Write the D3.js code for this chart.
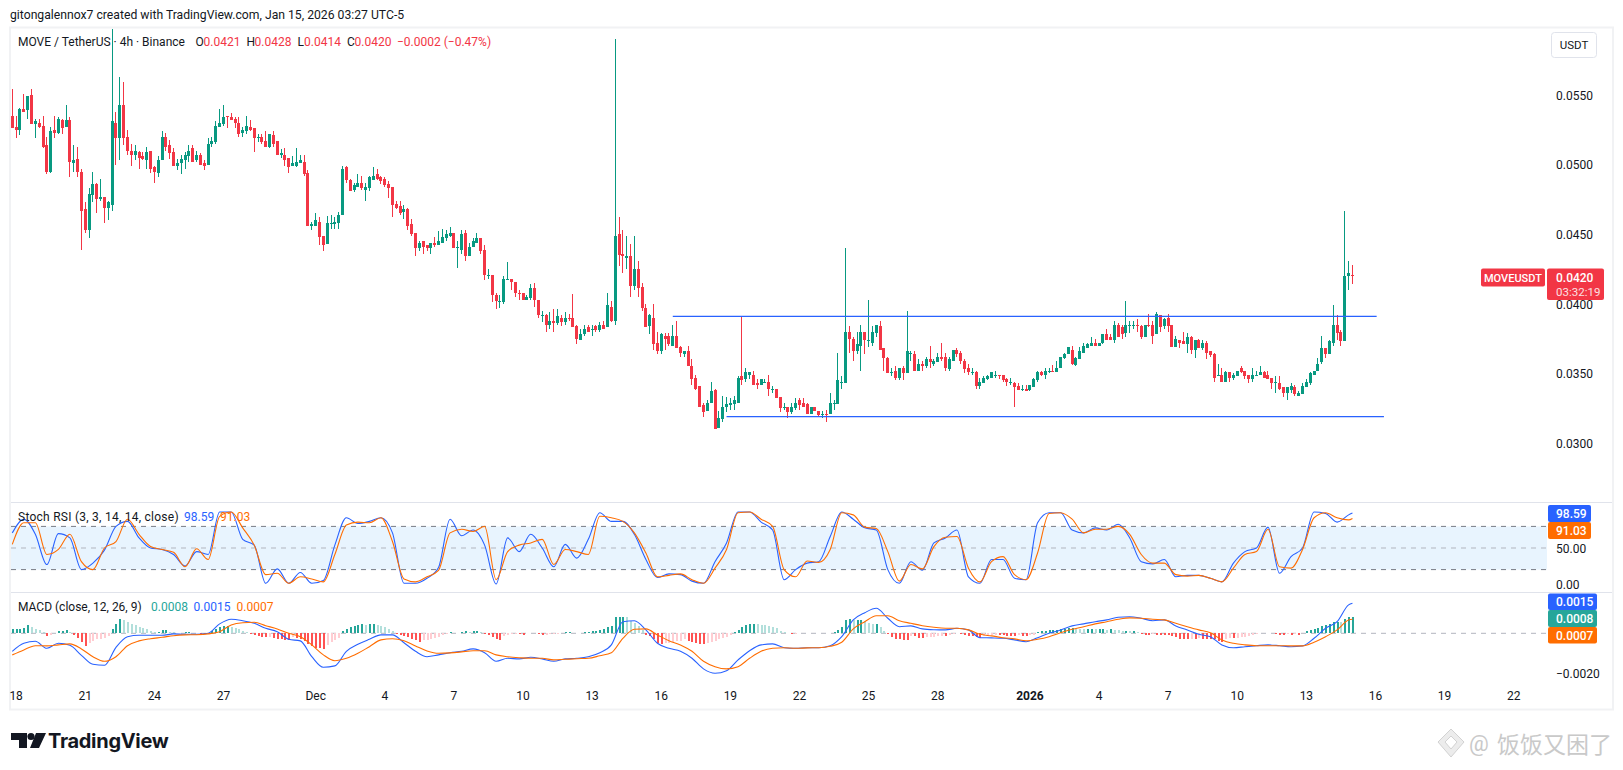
<!DOCTYPE html>
<html><head><meta charset="utf-8">
<script src="https://cdn.jsdelivr.net/npm/d3@7"></script>
<style>
html,body{margin:0;padding:0;background:#fff;overflow:hidden}
svg text{font-family:Roboto,"Noto Sans",sans-serif;fill:#131722}
.axis .domain,.axis line{display:none}
</style></head><body>
<svg id="c" width="1623" height="770"></svg>
<script>
// Prices are in ticks of 0.0001 USDT.
const TICK = 0.0001;
const opens = [535,527,525,540,539,550,529,530,528,514,
495,525,523,532,527,532,501,504,495,468,
453,478,486,475,477,469,471,530,519,543,
520,510,507,509,506,503,510,498,494,503,
520,514,509,499,501,503,506,512,503,507,
501,500,515,516,527,529,535,534,533,530,
523,524,527,526,519,520,517,513,521,517,
507,507,505,499,499,501,502,494,456,456,
459,449,443,458,457,458,464,498,489,482,
484,487,482,483,489,493,491,490,486,484,
472,470,466,468,457,451,440,445,442,440,
444,442,444,447,449,451,440,439,451,434,
441,444,447,439,420,421,406,402,401,417,
418,416,408,408,403,404,411,403,391,392,
385,388,386,390,387,390,390,384,374,378,
383,381,384,381,385,383,398,388,450,436,
433,434,413,425,412,397,384,390,372,366,
377,377,370,377,369,364,366,355,347,341,
327,323,329,338,311,317,326,327,328,329,
348,346,349,349,343,342,344,344,338,339,
333,325,326,322,325,331,329,328,321,326,
323,320,321,321,329,328,344,343,380,375,
366,370,380,374,372,379,384,368,361,350,
352,347,354,350,365,364,352,357,355,360,
357,358,362,362,353,359,367,365,359,354,
350,351,341,343,346,347,349,349,349,346,
343,343,341,338,339,338,340,345,351,349,
352,352,351,354,361,364,367,356,360,365,
368,370,372,370,372,378,376,374,385,383,
379,384,384,385,384,376,385,385,378,392,
384,390,385,369,374,373,371,376,367,374,
368,372,366,364,348,349,344,351,347,348,
354,352,349,346,349,349,351,349,347,343,
343,340,336,338,340,334,335,340,343,349,
352,358,368,364,372,385,380,373,420,421];
const highs = [554,535,541,551,549,554,533,533,535,520,
527,535,534,533,543,534,514,513,497,473,
483,495,487,490,477,474,605,538,563,559,
525,515,514,510,509,513,510,499,506,524,
523,518,512,504,507,509,514,514,510,508,
503,519,520,531,540,543,535,537,534,534,
527,535,532,526,522,522,524,522,524,517,
511,512,505,506,512,507,507,496,459,465,
462,449,463,464,462,466,499,499,490,487,
493,492,487,492,498,497,492,491,488,484,
474,474,471,469,461,451,445,445,442,444,
448,452,454,453,455,451,445,453,453,444,
447,451,447,442,425,421,408,406,420,430,
418,416,410,408,406,414,415,403,395,393,
394,396,396,392,394,393,407,385,382,385,
385,385,385,387,388,408,402,590,462,453,
449,443,449,431,415,400,393,400,380,379,
379,379,385,388,370,366,370,360,349,341,
329,331,344,339,323,334,333,332,334,348,
391,354,351,352,346,346,346,349,341,339,
333,329,326,329,332,332,332,329,326,326,
323,323,324,336,331,365,348,440,384,376,
380,385,380,403,384,385,388,368,362,354,
355,354,355,395,366,366,360,359,362,370,
360,365,372,365,362,367,368,366,360,357,
354,352,347,348,349,351,352,349,349,347,
347,344,343,342,342,342,347,352,352,354,
354,356,359,362,365,369,370,362,369,372,
372,376,375,372,378,382,378,388,386,385,
402,388,388,389,385,385,393,388,394,392,
390,393,385,377,374,380,379,377,374,375,
374,373,366,365,357,354,352,351,350,352,
355,352,349,354,352,355,352,352,347,348,
348,340,340,343,342,337,343,346,351,352,
361,377,368,374,399,392,381,467,431,428];
const lows = [526,519,521,538,533,529,519,526,512,493,
494,519,522,522,527,491,495,491,439,451,
447,473,465,474,458,460,467,500,503,514,
507,499,503,497,503,497,494,487,491,503,
510,504,499,496,493,497,502,502,502,500,
496,500,513,515,527,528,526,532,526,520,
520,522,524,509,516,515,513,512,513,507,
505,499,494,499,498,501,492,456,453,456,
442,438,443,454,454,454,464,487,481,480,
484,482,474,481,489,489,486,484,476,462,
468,464,461,453,449,434,438,436,438,436,
441,442,444,445,448,440,426,436,431,434,
441,444,436,417,418,401,396,397,400,417,
410,405,403,403,403,403,398,390,387,380,
382,380,385,384,385,388,383,371,374,377,
380,377,380,380,382,383,387,385,427,422,
425,405,410,405,395,383,378,367,364,364,
367,370,370,368,362,362,355,342,338,326,
319,323,329,310,311,315,322,324,324,329,
342,344,346,342,339,342,343,334,336,332,
322,324,318,321,324,324,326,321,321,323,
319,318,315,321,324,328,339,343,365,359,
364,352,364,369,370,376,367,352,350,348,
345,345,345,350,359,352,352,352,354,354,
355,358,359,352,352,359,362,357,350,349,
349,339,339,343,345,347,347,346,344,341,
342,326,338,337,337,337,340,344,348,346,
350,351,351,354,360,364,356,355,360,365,
368,370,370,370,371,374,374,372,376,375,
376,379,382,380,375,376,383,371,378,380,
382,380,369,369,368,371,365,364,361,368,
367,360,362,344,348,344,344,344,345,348,
350,346,343,344,349,349,347,346,339,336,
338,333,331,336,334,334,335,340,342,349,
352,357,361,364,370,374,370,373,410,414];
const closes = [526,525,540,538,549,529,531,527,513,495,
524,523,533,526,532,502,503,495,467,453,
479,486,475,477,469,473,531,519,543,519,
510,507,510,505,504,509,497,495,503,520,
513,508,499,501,504,507,510,502,507,500,
499,515,517,528,530,534,534,532,530,522,
525,528,525,519,520,516,513,522,515,507,
508,503,498,501,502,503,493,456,457,460,
448,442,458,458,459,464,497,489,481,485,
487,483,484,491,492,490,488,485,483,471,
469,465,468,456,450,440,444,441,440,444,
442,445,448,450,451,440,441,450,434,441,
445,447,438,421,421,406,402,402,418,418,
416,408,407,403,405,411,403,392,392,385,
388,386,391,387,390,389,383,375,378,382,
380,382,381,385,382,399,388,449,435,434,
434,413,425,411,397,383,392,371,366,378,
375,371,377,368,365,366,355,346,339,326,
322,329,337,310,318,326,328,329,331,347,
345,351,351,342,342,346,344,339,339,332,
325,326,322,326,329,327,326,321,326,323,
320,321,320,329,329,345,344,380,375,366,
371,380,374,374,380,385,367,361,350,351,
347,354,350,366,365,352,357,355,360,358,
359,362,360,354,360,367,364,359,353,351,
351,341,344,347,348,351,349,348,345,344,
344,340,338,339,337,342,346,351,349,352,
352,351,354,362,364,369,357,361,366,370,
371,372,370,372,378,374,374,385,376,378,
385,385,385,384,376,385,384,377,393,383,
389,384,369,375,372,371,376,367,374,368,
372,365,363,347,349,344,351,347,349,352,
351,348,346,349,349,351,347,346,343,344,
339,336,340,341,335,336,341,344,350,352,
357,368,364,373,385,379,373,420,422,420];
// Horizontal line tools: [first bar, last bar, price in ticks]
const lineStarts = [172, 186];
const lineEnds = [355.3, 357.2];
const lineLevels = [391, 319];
// Stoch RSI and MACD are read at every third bar, plus the last one.
const stochK = [71,90,69,27,70,64,20,29,47,80,87,64,50,48,41,25,45,41,100,100,62,54,1,21,1,16,1,5,54,92,84,87,92,71,1,1,8,23,90,67,75,54,0,64,45,69,
50,24,55,36,62,99,87,87,69,34,9,14,13,4,1,31,57,100,100,86,75,6,20,29,31,66,100,90,78,75,20,1,31,19,57,64,75,10,1,34,34,8,6,85,99,99,75,
71,78,75,83,64,31,28,34,10,12,12,8,3,29,45,50,79,15,38,50,100,98,86,96,98.59];
const stochD = [55,85,85,41,48,69,31,20,50,59,90,69,52,48,44,24,49,34,94,100,78,54,13,15,1,10,7,3,41,82,86,85,92,59,7,3,10,19,71,76,73,80,6,45,54,57,
62,27,48,45,41,94,92,87,71,43,10,12,14,6,1,22,48,99,100,90,80,20,10,32,30,48,99,96,79,77,45,4,27,21,52,65,66,22,3,31,38,13,6,43,98,99,90,
71,76,76,80,69,41,29,29,13,11,12,8,3,22,41,45,76,24,22,48,92,99,92,89,91.03];
const macdLine = [-9,-5,-4,-7.5,-5,-6,-11,-15.5,-16,-7,-1.7,-1,-1,-1,-.3,-.5,-.5,0,4.7,7,6.3,5,2.5,.8,-3,-3.8,-11.7,-17,-16.3,-9,-5.5,-3,-.8,-.8,-4.7,-9,-11.7,-10.8,-9.7,-9,-7.8,-9.7,-14,-12.5,-12.8,-12,
-12.8,-14,-12.8,-12.5,-11.7,-9.7,-5.8,5.8,6.3,1.7,-5,-7.5,-9,-12.5,-17.8,-20,-18.7,-13.3,-8.7,-5.8,-5.3,-7.2,-7.5,-7.2,-7.2,-6.2,-1.7,6.7,10.3,12.5,7.5,3.3,3.7,2.2,1.8,1.7,2.5,1.7,-2.2,-2.3,-2.5,-3.3,-4.2,-2.2,0,1.7,3.7,
4.7,5.8,6.7,8,8.3,7.5,6.3,6.7,3.7,1.7,-.5,-1.7,-5.8,-7.2,-6.7,-6.2,-5.8,-6.2,-6.7,-6.3,-2.5,2.5,5.8,14.2,15];
const signalLine = [-10.8,-8.3,-6.2,-6.3,-5.8,-5.3,-7.8,-11.7,-14,-11.7,-6.2,-3.8,-2.7,-2,-1.2,-.8,-.7,-.3,.8,4.2,5.3,5.5,3.8,2.2,0,-1.7,-5.8,-10.8,-13.7,-12.5,-10,-6.7,-3.3,-2.7,-3.7,-6.3,-8.8,-10,-9.8,-9.3,-8.7,-8.7,-10.8,-11.7,-12.2,-12.5,
-12.5,-13.3,-13,-12.7,-12.5,-11.2,-9.7,-2.5,2,2.2,-.8,-3.7,-5.8,-9,-14,-16.7,-17.8,-16.7,-12.5,-9,-7.5,-7.2,-7.5,-7.3,-7.2,-6.5,-4.5,2.2,5.8,8.8,8.8,6.3,5,3.8,3,2.5,2.5,1.7,-.5,-1.3,-2.2,-2.8,-3.7,-3,-1.7,.3,2,
3.3,4.7,5.8,7,7.7,7.5,7,6.7,5,3.3,1.7,.3,-3.3,-5,-5.8,-6.2,-6.2,-6.2,-6.3,-6.3,-4.5,-1.7,1.7,6.7,7];
const histogram = [2,2,2.2,2.8,4,3,2.3,1.5,.8,-1.5,
-.8,.2,1,1.3,1.5,.6,-1,-2.2,-4.2,-6.5,
-5,-4,-3,-2.7,-2.2,-1.5,2,4.7,7,6.5,
5.5,4.7,4,3.3,2.7,2,1.2,.5,.5,1.7,
1.7,.8,.5,.2,.2,.5,.5,.3,.3,-.3,
-.5,-.5,1.2,2.2,3,3.7,3.7,3.2,2.7,2,
1,.8,-.3,-.8,-1.2,-1.8,-2,-1.8,-2.2,-2.8,
-3,-3.3,-3.5,-2,-2.5,-2.7,-4,-5.5,-6.5,-7.3,
-7.3,-7.7,-6,-4.5,-3.3,-2.5,1,2.2,3,3.5,
4.3,4.5,4.3,4.5,4.5,4,3.8,3,2,1,
-.3,-.8,-1.3,-2,-2.7,-3.3,-4.2,-3.5,-3.2,-2.8,
-2.2,-1.8,-.8,-.2,.5,.2,.2,.8,1,.8,
1,1.2,.8,-.2,-1,-1.8,-3,-3.5,-1.5,-.8,
-.5,-.3,-.4,-.6,.1,.2,.2,-.5,-.8,-.6,
-.4,-.3,-.2,.1,.5,.7,.3,.2,.4,.5,
.8,1.2,1.4,1.8,2,3.3,3.5,8,8.3,8.3,
8,6,5,3.5,1.5,-.8,-1.5,-3,-4.7,-5.3,
-5,-4.7,-4.3,-3.8,-3.7,-3,-3.8,-4.3,-4.7,-5.3,
-5.5,-4.8,-4.5,-4,-3,-2.5,-1.8,-1,.5,1.5,
3,4.3,4.7,4.7,4.5,4.3,4,3.5,3,2.5,
1.2,.7,.1,-.4,-.3,.2,.2,.2,.3,.2,
.1,.2,.2,.3,.8,1.5,3,6.5,7.3,6.5,
6.5,6.8,6.3,5,4.5,4.5,3,1.2,-.5,-2,
-2.7,-3,-3.3,-3.3,-1.5,-1.5,-2.2,-2.3,-2,-1.8,
-1.7,-1.5,-1.2,-1.2,-1,-.3,.1,-.2,-.8,-1.3,
-1.5,-2,-2.5,-1.5,-1.2,-1,-.8,-.9,-1,-1.2,
-1.2,-1.2,-1,-1.2,-1.2,-1,-.8,.5,1,1.3,
1.5,1.5,1.8,2,2.2,2.7,2.7,2.3,2.2,2,
2.2,2.4,2,2,2,1.7,2,1.7,1.5,1.2,
1.3,1,1,.7,-.2,-.8,-.8,-.5,-.7,-.7,
-.7,-.9,-1.5,-2,-2.7,-2.8,-2.8,-2.7,-2.7,-2.5,
-2.7,-2.7,-3,-3,-3.8,-4.2,-2.7,-2.5,-2.5,-2.2,
-2,-1.8,-1.2,-.8,-.3,.1,.2,.2,.2,-.2,
-.6,-.7,-.4,-.6,-.5,-.6,.3,1,1.5,2,
2.7,3.7,4.2,4.7,5.8,5.8,5.5,7,8,8];
const priceTicks = [0.03,0.035,0.04,0.045,0.05,0.055];
const stochTicks = [0,50];
const stochLevels = [80,50,20];
const macdTicks = [-0.002];
const timeTickDays = [0,3,6,9,13,16,19,22,25,28,31,34,37,40,44,47,50,53,56,59,62,65];
const timeTickLabels = ["18","21","24","27","Dec","4","7","10","13","16","19","22","25","28","2026","4","7","10","13","16","19","22"];
const UP="#089981", DOWN="#F23645", BLUE="#2962FF", ORANGE="#FF6D00", TEAL="#26A69A";

const svg = d3.select("#c");
const bars = d3.range(closes.length);
const sampleBars = d3.range(0,349,3).concat([349]);
const x = d3.scaleLinear().domain([0,349]).range([12.3,12.3+3.84*349]);
const y = d3.scaleLinear().domain([0.03,0.055]).range([443,95]);
const yS = d3.scaleLinear().domain([0,100]).range([584,512]);
const yM = d3.scaleLinear().domain([-0.002,0]).range([673.3,633.3]);
const PANE_L=11, PANE_R=1547;

// header
svg.append("text").attr("x",10).attr("y",19).attr("font-size",12.2).text("gitongalennox7 created with TradingView.com, Jan 15, 2026 03:27 UTC-5");
// frame
svg.append("rect").attr("x",10).attr("y",27.5).attr("width",1603).attr("height",682).attr("fill","#fff").attr("stroke","#F1F2F4").attr("stroke-width",2);
const defs=svg.append("defs");
defs.append("clipPath").attr("id","pricePane").append("rect").attr("x",PANE_L).attr("y",29).attr("width",PANE_R-PANE_L).attr("height",473);

// panes separators
[502.5,592.5].forEach(v=>svg.append("line").attr("x1",11).attr("x2",1612).attr("y1",v).attr("y2",v).attr("stroke","#E0E3EB").attr("stroke-width",1));

// candles
const gC = svg.append("g").attr("clip-path","url(#pricePane)").attr("shape-rendering","crispEdges");
const col = i => closes[i]>=opens[i]?UP:DOWN;
gC.selectAll(".w").data(bars).join("rect").attr("class","w")
 .attr("x",i=>Math.floor(x(i))).attr("width",1)
 .attr("y",i=>y(highs[i]*TICK)).attr("height",i=>Math.max(1,y(lows[i]*TICK)-y(highs[i]*TICK)))
 .attr("fill",col);
gC.selectAll(".b").data(bars).join("rect").attr("class","b")
 .attr("x",i=>Math.floor(x(i))-1).attr("width",3)
 .attr("y",i=>y(Math.max(opens[i],closes[i])*TICK))
 .attr("height",i=>Math.max(1,Math.abs(y(opens[i]*TICK)-y(closes[i]*TICK))))
 .attr("fill",col);
// line tools
svg.selectAll(".tool").data(lineLevels).join("line").attr("class","tool")
 .attr("x1",(d,i)=>x(lineStarts[i])).attr("x2",(d,i)=>x(lineEnds[i]))
 .attr("y1",d=>y(d*TICK)).attr("y2",d=>y(d*TICK)).attr("stroke",BLUE).attr("stroke-width",1.2);

// stoch pane
svg.append("rect").attr("x",PANE_L).attr("width",PANE_R-PANE_L).attr("y",yS(80)).attr("height",yS(20)-yS(80)).attr("fill","#2196F3").attr("fill-opacity",.1);
svg.selectAll(".lvl").data(stochLevels).join("line").attr("class","lvl")
 .attr("x1",PANE_L).attr("x2",PANE_R).attr("y1",d=>yS(d)).attr("y2",d=>yS(d))
 .attr("stroke",d=>d===50?"#B2B5BE":"#787B86").attr("stroke-dasharray","5 5");
const lineS = arr => d3.line().curve(d3.curveMonotoneX).x((d,i)=>x(sampleBars[i])).y(d=>yS(d))(arr);
svg.append("path").attr("d",lineS(stochK)).attr("fill","none").attr("stroke",BLUE).attr("stroke-width",1.1);
svg.append("path").attr("d",lineS(stochD)).attr("fill","none").attr("stroke",ORANGE).attr("stroke-width",1.1);

// macd pane
svg.append("line").attr("x1",PANE_L).attr("x2",PANE_R).attr("y1",yM(0)).attr("y2",yM(0)).attr("stroke","#B2B5BE").attr("stroke-dasharray","5 5");
const histCol = i=>{const v=histogram[i],p=i?histogram[i-1]:v;
 return v>=0?(v>=p?TEAL:"#B2DFDB"):(v<=p?"#FF5252":"#FFCDD2");};
svg.append("g").attr("shape-rendering","crispEdges").selectAll("rect").data(bars).join("rect")
 .attr("x",i=>Math.floor(x(i))).attr("width",2)
 .attr("y",i=>yM(Math.max(0,histogram[i])*TICK)).attr("height",i=>Math.abs(yM(histogram[i]*TICK)-yM(0)))
 .attr("fill",histCol);
const lineM = arr => d3.line().curve(d3.curveMonotoneX).x((d,i)=>x(sampleBars[i])).y(d=>yM(d*TICK))(arr);
svg.append("path").attr("d",lineM(macdLine)).attr("fill","none").attr("stroke",BLUE).attr("stroke-width",1.1);
svg.append("path").attr("d",lineM(signalLine)).attr("fill","none").attr("stroke",ORANGE).attr("stroke-width",1.1);

// axes
const axisStyle = g=>{g.attr("class","axis").selectAll("text").attr("font-size",12).attr("text-anchor","start").attr("dy","0.36em").attr("x",0);};
svg.append("g").attr("transform","translate(1556,0)").call(d3.axisRight(y).tickValues(priceTicks).tickSize(0).tickFormat(d3.format(".4f"))).call(axisStyle);
svg.append("g").attr("transform","translate(1556,0)").call(d3.axisRight(yS).tickValues(stochTicks).tickSize(0).tickFormat(d3.format(".2f"))).call(axisStyle);
svg.append("g").attr("transform","translate(1556,0)").call(d3.axisRight(yM).tickValues(macdTicks).tickSize(0).tickFormat(d=>d3.format(".4f")(d).replace("-","\u2212"))).call(axisStyle);
// time axis
const tx = d3.scaleOrdinal().domain(timeTickLabels.map((d,i)=>i)).range(timeTickDays.map(d=>x(d*6+1)));
svg.append("g").attr("class","axis").selectAll("text").data(timeTickLabels).join("text")
 .attr("x",(d,i)=>tx(i)).attr("y",699.5).attr("text-anchor","middle").attr("font-size",12)
 .attr("font-weight",d=>d==="2026"?700:400).text(d=>d);
svg.selectAll(".axis .domain").remove();

// legends
function legend(yy,items){items.forEach(([xx,t,c,ls])=>svg.append("text").attr("x",xx).attr("y",yy).attr("font-size",12).style("fill",c||"#131722").style("letter-spacing",ls||null).text(t));}
legend(45.5,[[18,"MOVE / TetherUS \u00b7 4h \u00b7 Binance"],[195.6,"O"],[203.5,"0.0421",DOWN],[246.6,"H"],[254.5,"0.0428",DOWN],[297.5,"L"],[304,"0.0414",DOWN],[347,"C"],[354.5,"0.0420",DOWN],[397,"\u22120.0002 (\u22120.47%)",DOWN]]);
legend(521,[[18,"Stoch RSI (3, 3, 14, 14, close)",null,"0.25px"],[184,"98.59",BLUE],[220,"91.03",ORANGE]]);
legend(611,[[18,"MACD (close, 12, 26, 9)"],[151,"0.0008",TEAL],[193.5,"0.0015",BLUE],[236.5,"0.0007",ORANGE]]);

// USDT button
svg.append("rect").attr("x",1551.5).attr("y",32.5).attr("width",45).attr("height",25).attr("rx",3).attr("fill","#fff").attr("stroke","#E0E3EB");
svg.append("text").attr("x",1574).attr("y",49).attr("text-anchor","middle").attr("font-size",11.5).text("USDT");

// price tags
function tag(xx,yy,w,h,c){svg.append("rect").attr("x",xx).attr("y",yy).attr("width",w).attr("height",h).attr("rx",2).attr("fill",c);}
function tagText(xx,yy,t,o,w,fs){svg.append("text").attr("x",xx).attr("y",yy).attr("font-size",fs||12).attr("font-weight",w||400).style("fill","#fff").style("opacity",o||1).text(t);}
tag(1481,268.5,64,18,DOWN); tagText(1484,282,"MOVEUSDT",1,500,11);
tag(1547,268.5,57,31.5,DOWN); tagText(1556,282,"0.0420",1,500); tagText(1556,296,"03:32:19",.85,400,11.5);
tag(1548,505,43,17,BLUE); tagText(1556,518,"98.59",1,500);
tag(1548,522,43,17,ORANGE); tagText(1556,535,"91.03",1,500);
tag(1548,593.5,49,16.5,BLUE); tagText(1556,606,"0.0015",1,500);
tag(1548,610,49,17,TEAL); tagText(1556,623,"0.0008",1,500);
tag(1548,627,49,16.5,ORANGE); tagText(1556,640,"0.0007",1,500);

// TradingView logo
svg.append("path").attr("fill","#131722").attr("d","M11 733h16v15h-8v-8h-8z M36 733h10l-7 15h-9z");
svg.append("circle").attr("cx",31).attr("cy",736.5).attr("r",3.6).attr("fill","#131722");
svg.append("text").attr("x",48).attr("y",748).attr("font-size",20).attr("font-weight",700).style("font-family","Inter,Roboto,sans-serif").style("letter-spacing","-0.3px").text("TradingView");

// watermark
const wm=svg.append("g");
wm.append("path").attr("d","M1451 729l13 13-13 15-13-15z M1451 736l6 6-6 7-6-7z").attr("fill","#ececec").attr("stroke","#d2d2d2").attr("fill-rule","evenodd");
wm.append("text").attr("x",1469).attr("y",751).attr("font-size",22).style("fill","#c9c9c9").text("@");
wm.append("text").attr("x",1497).attr("y",753).attr("font-size",23).style("font-family","'Noto Sans CJK SC'").style("fill","#c9c9c9").text("饭饭又困了");
</script>
</body></html>
